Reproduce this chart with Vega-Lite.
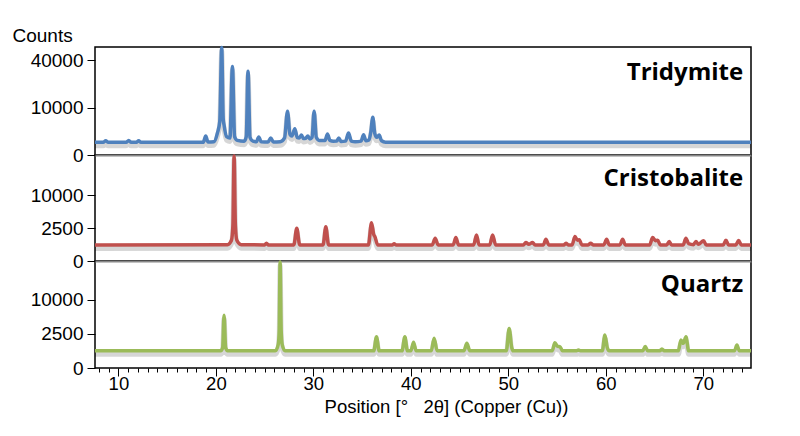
{
  "$schema": "https://vega.github.io/schema/vega-lite/v6.json",
  "padding": {"left": 11, "top": 25, "right": 5, "bottom": 5},
  "bounds": "flush",
  "spacing": 0,
  "config": {
    "view": {"stroke": "#000", "strokeWidth": 1.5},
    "font": "Liberation Sans",
    "axis": {"labelFont": "Liberation Sans", "titleFont": "Liberation Sans", "labelColor": "#000", "titleColor": "#000", "tickColor": "#000", "domainColor": "#000", "grid": false, "titleFontWeight": "normal"}
  },
  "datasets": {
    "tridymite": [
      {"x":7.6,"y":720},{"x":8.45,"y":720},{"x":8.7,"y":900},{"x":8.95,"y":720},{"x":10.8,"y":720},{"x":11.06,"y":950},{"x":11.3,"y":720},{"x":11.85,"y":720},{"x":12.08,"y":900},{"x":12.3,"y":720},{"x":18.7,"y":720},{"x":18.96,"y":1600},{"x":19.2,"y":740},{"x":19.8,"y":780},{"x":20.16,"y":2160},{"x":20.4,"y":5000},{"x":20.6,"y":51500},{"x":20.75,"y":6000},{"x":20.84,"y":4000},{"x":21.1,"y":1500},{"x":21.45,"y":1300},{"x":21.7,"y":35000},{"x":21.92,"y":1500},{"x":22.2,"y":950},{"x":22.9,"y":850},{"x":23.12,"y":1500},{"x":23.3,"y":31200},{"x":23.5,"y":1400},{"x":23.8,"y":850},{"x":24.15,"y":780},{"x":24.4,"y":1440},{"x":24.65,"y":780},{"x":25.35,"y":760},{"x":25.63,"y":1290},{"x":25.9,"y":760},{"x":26.6,"y":780},{"x":27.05,"y":1300},{"x":27.35,"y":8500},{"x":27.6,"y":1900},{"x":27.8,"y":1600},{"x":28.1,"y":3080},{"x":28.35,"y":1350},{"x":28.55,"y":1300},{"x":28.78,"y":1780},{"x":29.0,"y":1200},{"x":29.2,"y":1250},{"x":29.43,"y":1610},{"x":29.65,"y":1150},{"x":29.87,"y":1400},{"x":30.08,"y":8500},{"x":30.3,"y":1400},{"x":30.6,"y":950},{"x":31.2,"y":950},{"x":31.45,"y":1965},{"x":31.7,"y":950},{"x":32.05,"y":850},{"x":32.4,"y":860},{"x":32.61,"y":1290},{"x":32.85,"y":820},{"x":33.3,"y":860},{"x":33.61,"y":2160},{"x":33.9,"y":860},{"x":34.3,"y":780},{"x":34.9,"y":860},{"x":35.15,"y":1840},{"x":35.4,"y":900},{"x":35.7,"y":1000},{"x":35.9,"y":2400},{"x":36.1,"y":6340},{"x":36.3,"y":2100},{"x":36.5,"y":1400},{"x":36.75,"y":1780},{"x":37.0,"y":900},{"x":37.4,"y":730},{"x":74.9,"y":720}
    ],
    "cristobalite": [
      {"x":7.6,"y":600},{"x":21.2,"y":620},{"x":21.6,"y":1000},{"x":21.75,"y":3000},{"x":21.87,"y":25500},{"x":22.0,"y":3000},{"x":22.15,"y":1000},{"x":22.6,"y":620},{"x":25.0,"y":600},{"x":25.19,"y":735},{"x":25.4,"y":600},{"x":28.0,"y":600},{"x":28.3,"y":2475},{"x":28.6,"y":600},{"x":31.0,"y":600},{"x":31.28,"y":2730},{"x":31.56,"y":600},{"x":35.65,"y":600},{"x":35.97,"y":3400},{"x":36.2,"y":1600},{"x":36.31,"y":1385},{"x":36.6,"y":600},{"x":38.1,"y":600},{"x":38.29,"y":680},{"x":38.5,"y":600},{"x":42.2,"y":600},{"x":42.5,"y":1200},{"x":42.8,"y":600},{"x":44.35,"y":600},{"x":44.62,"y":1275},{"x":44.9,"y":600},{"x":46.45,"y":600},{"x":46.74,"y":1570},{"x":47.0,"y":600},{"x":48.1,"y":600},{"x":48.39,"y":1570},{"x":48.7,"y":600},{"x":51.55,"y":600},{"x":51.8,"y":794},{"x":52.1,"y":650},{"x":52.49,"y":794},{"x":52.75,"y":600},{"x":53.6,"y":600},{"x":53.86,"y":1100},{"x":54.15,"y":600},{"x":55.7,"y":600},{"x":55.91,"y":735},{"x":56.15,"y":600},{"x":56.55,"y":600},{"x":56.84,"y":1385},{"x":57.1,"y":1000},{"x":57.28,"y":1050},{"x":57.55,"y":600},{"x":58.2,"y":600},{"x":58.45,"y":735},{"x":58.7,"y":600},{"x":59.8,"y":600},{"x":60.09,"y":1100},{"x":60.35,"y":600},{"x":61.45,"y":600},{"x":61.73,"y":1100},{"x":62.0,"y":600},{"x":64.5,"y":600},{"x":64.81,"y":1275},{"x":65.1,"y":950},{"x":65.32,"y":1000},{"x":65.6,"y":600},{"x":66.25,"y":600},{"x":66.51,"y":880},{"x":66.75,"y":600},{"x":67.95,"y":600},{"x":68.22,"y":1200},{"x":68.5,"y":700},{"x":69.0,"y":620},{"x":69.25,"y":880},{"x":69.5,"y":650},{"x":70.04,"y":950},{"x":70.3,"y":600},{"x":72.05,"y":600},{"x":72.33,"y":1000},{"x":72.6,"y":600},{"x":73.35,"y":600},{"x":73.63,"y":980},{"x":73.9,"y":600},{"x":74.9,"y":600}
    ],
    "quartz": [
      {"x":7.6,"y":630},{"x":20.5,"y":630},{"x":20.7,"y":900},{"x":20.84,"y":5955},{"x":21.0,"y":900},{"x":21.2,"y":630},{"x":26.1,"y":640},{"x":26.4,"y":1200},{"x":26.5,"y":3000},{"x":26.59,"y":24000},{"x":26.7,"y":3000},{"x":26.8,"y":1200},{"x":27.1,"y":640},{"x":36.2,"y":630},{"x":36.48,"y":2095},{"x":36.75,"y":630},{"x":39.1,"y":630},{"x":39.39,"y":2095},{"x":39.65,"y":630},{"x":40.0,"y":630},{"x":40.28,"y":1417},{"x":40.55,"y":630},{"x":42.1,"y":630},{"x":42.39,"y":1887},{"x":42.7,"y":630},{"x":45.45,"y":630},{"x":45.75,"y":1310},{"x":46.05,"y":630},{"x":49.8,"y":630},{"x":50.09,"y":3354},{"x":50.35,"y":900},{"x":50.5,"y":630},{"x":54.5,"y":630},{"x":54.78,"y":1374},{"x":55.05,"y":1000},{"x":55.3,"y":978},{"x":55.55,"y":630},{"x":57.0,"y":630},{"x":57.2,"y":700},{"x":57.4,"y":630},{"x":59.65,"y":630},{"x":59.91,"y":2325},{"x":60.15,"y":900},{"x":60.35,"y":630},{"x":63.8,"y":630},{"x":64.05,"y":978},{"x":64.3,"y":630},{"x":65.55,"y":630},{"x":65.76,"y":780},{"x":66.0,"y":630},{"x":67.45,"y":630},{"x":67.71,"y":1680},{"x":67.95,"y":1300},{"x":68.23,"y":2095},{"x":68.5,"y":630},{"x":73.2,"y":630},{"x":73.46,"y":1138},{"x":73.7,"y":630},{"x":74.9,"y":630}
    ]
  },
  "vconcat": [
    {
      "width": 656, "height": 108,
      "data": {"name": "tridymite"},
      "resolve": {"axis": {"x": "independent", "y": "independent"}},
      "layer": [
        {
          "mark": {"type": "line", "color": "#000", "opacity": 0.16, "strokeWidth": 5, "yOffset": 3.5, "interpolate": "monotone"},
          "encoding": {
            "x": {"field": "x", "type": "quantitative", "scale": {"domain": [7.6, 74.9], "nice": false, "zero": false}, "axis": null},
            "y": {"field": "y", "type": "quantitative", "scale": {"type": "sqrt", "domain": [0, 52000], "nice": false}, "axis": null}
          }
        },
        {
          "mark": {"type": "line", "color": "#4F81BD", "strokeWidth": 3.5, "interpolate": "monotone"},
          "encoding": {
            "x": {"field": "x", "type": "quantitative", "axis": null},
            "y": {"field": "y", "type": "quantitative", "axis": {"values": [0, 10000, 40000], "format": "d", "tickSize": 8, "labelPadding": 4, "labelFontSize": 19, "domain": false, "title": "Counts", "titleAngle": 0, "titleFontSize": 19, "titleAlign": "left", "titleBaseline": "alphabetic", "titleX": -83, "titleY": -6}}
          }
        },
        {
          "data": {"values": [{"label": "Tridymite"}]},
          "mark": {"type": "text", "align": "right", "baseline": "alphabetic", "font": "Open Sans", "fontWeight": "bold", "fontSize": 24, "color": "#000"},
          "encoding": {
            "x": {"datum": 74.1, "type": "quantitative", "axis": null},
            "y": {"datum": 25000, "type": "quantitative", "axis": null},
            "text": {"field": "label"}
          }
        }
      ]
    },
    {
      "width": 656, "height": 106,
      "data": {"name": "cristobalite"},
      "resolve": {"axis": {"x": "independent", "y": "independent"}},
      "layer": [
        {
          "mark": {"type": "line", "color": "#000", "opacity": 0.16, "strokeWidth": 5, "yOffset": 3.5, "interpolate": "monotone"},
          "encoding": {
            "x": {"field": "x", "type": "quantitative", "scale": {"domain": [7.6, 74.9], "nice": false, "zero": false}, "axis": null},
            "y": {"field": "y", "type": "quantitative", "scale": {"type": "sqrt", "domain": [0, 26000], "nice": false}, "axis": null}
          }
        },
        {
          "mark": {"type": "line", "color": "#C0504D", "strokeWidth": 3.5, "interpolate": "monotone"},
          "encoding": {
            "x": {"field": "x", "type": "quantitative", "axis": {"orient": "top", "domainColor": "#888", "domainWidth": 2, "ticks": false, "labels": false, "title": null}},
            "y": {"field": "y", "type": "quantitative", "axis": {"values": [0, 2500, 10000], "format": "d", "tickSize": 8, "labelPadding": 4, "labelFontSize": 19, "domain": false, "title": null}}
          }
        },
        {
          "data": {"values": [{"label": "Cristobalite"}]},
          "mark": {"type": "text", "align": "right", "baseline": "alphabetic", "font": "Open Sans", "fontWeight": "bold", "fontSize": 24, "color": "#000"},
          "encoding": {
            "x": {"datum": 74.1, "type": "quantitative", "axis": null},
            "y": {"datum": 12900, "type": "quantitative", "axis": null},
            "text": {"field": "label"}
          }
        }
      ]
    },
    {
      "width": 656, "height": 107,
      "data": {"name": "quartz"},
      "resolve": {"axis": {"x": "independent", "y": "independent"}},
      "layer": [
        {
          "mark": {"type": "line", "color": "#000", "opacity": 0.16, "strokeWidth": 5, "yOffset": 3.5, "interpolate": "monotone"},
          "encoding": {
            "x": {"field": "x", "type": "quantitative", "scale": {"domain": [7.6, 74.9], "nice": false, "zero": false}, "axis": {"orient": "top", "domainColor": "#888", "domainWidth": 2, "ticks": false, "labels": false, "title": null}},
            "y": {"field": "y", "type": "quantitative", "scale": {"type": "sqrt", "domain": [0, 24500], "nice": false}, "axis": null}
          }
        },
        {
          "mark": {"type": "line", "color": "#9BBB59", "strokeWidth": 3.5, "interpolate": "monotone"},
          "encoding": {
            "x": {"field": "x", "type": "quantitative", "axis": {"orient": "bottom", "values": [8,9,10,11,12,13,14,15,16,17,18,19,20,21,22,23,24,25,26,27,28,29,30,31,32,33,34,35,36,37,38,39,40,41,42,43,44,45,46,47,48,49,50,51,52,53,54,55,56,57,58,59,60,61,62,63,64,65,66,67,68,69,70,71,72,73,74], "labelExpr": "datum.value % 10 === 0 ? datum.label : ''", "tickSize": {"condition": {"test": "datum.value % 10 === 0", "value": 8}, "value": 4}, "labelPadding": -2, "labelFontSize": 18.5, "labelFlush": false, "labelOverlap": false, "domain": false, "title": "Position [°\u00a0\u00a0 2θ] (Copper (Cu))", "titleFontSize": 18.5, "titleX": 351, "titleY": 44, "titleBaseline": "alphabetic"}},
            "y": {"field": "y", "type": "quantitative", "axis": {"values": [0, 2500, 10000], "format": "d", "tickSize": 8, "labelPadding": 4, "labelFontSize": 19, "domain": false, "title": null}}
          }
        },
        {
          "data": {"values": [{"label": "Quartz"}]},
          "mark": {"type": "text", "align": "right", "baseline": "alphabetic", "font": "Open Sans", "fontWeight": "bold", "fontSize": 24, "color": "#000"},
          "encoding": {
            "x": {"datum": 74.1, "type": "quantitative", "axis": null},
            "y": {"datum": 12500, "type": "quantitative", "axis": null},
            "text": {"field": "label"}
          }
        }
      ]
    }
  ]
}
